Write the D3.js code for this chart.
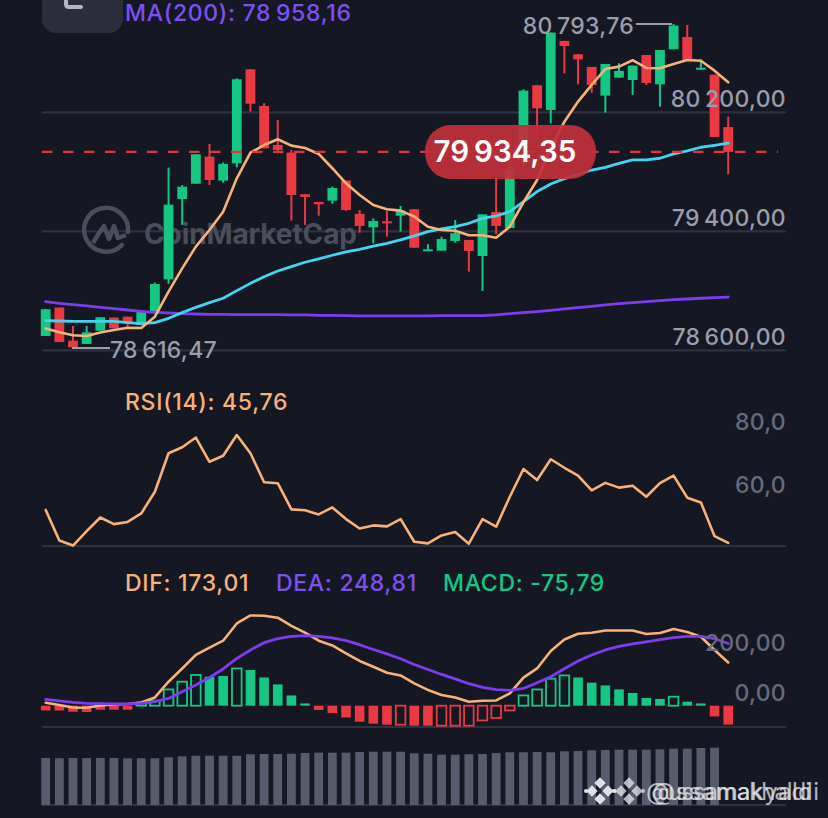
<!DOCTYPE html>
<html><head><meta charset="utf-8">
<script src="https://cdn.jsdelivr.net/npm/d3@7/dist/d3.min.js"></script>
<style>html,body{margin:0;padding:0;background:#151823;overflow:hidden}svg{display:block}text{font-family:Inter,"Noto Sans",sans-serif}</style>
</head><body><svg id="c" width="828" height="818"></svg>
<script>
const opens=[78696,78887,78665,78643,78732,78820,78826,78770,78849,79077,79617,79720,79902,79741,79857,80489,80243,79980,79929,79649,79597,79606,79741,79517,79427,79467,79505,79548,79268,79270,79335,79342,79234,79530,79422,79992,80382,80216,80680,80590,80505,80312,80433,80417,80585,80388,80624,80706,80487,80453,80101];
const closes=[78876,78656,78620,78721,78822,78748,78786,78860,79046,79579,79700,79918,79745,79853,80422,80258,79958,79947,79644,79631,79582,79691,79543,79436,79469,79454,79539,79290,79279,79348,79387,79268,79514,79436,79817,80346,80227,80736,80646,80556,80384,80525,80478,80514,80397,80619,80783,80552,80500,80034,79934];
const highs=[78876,78887,78764,78764,78822,78820,78826,78860,79055,79828,79711,79918,79987,79862,80429,80489,80261,80148,79947,79649,79597,79700,79741,79543,79487,79539,79570,79548,79313,79364,79476,79342,79514,79756,79857,80355,80382,80736,80680,80590,80505,80525,80529,80514,80585,80619,80794,80787,80556,80453,80171];
const lows=[78696,78656,78616,78643,78732,78748,78748,78770,78849,79046,79443,79720,79711,79727,79830,80205,79958,79924,79472,79443,79505,79584,79537,79391,79319,79364,79398,79290,79268,79270,79324,79129,78999,79380,79422,79824,80048,80126,80462,80388,80332,80198,80433,80317,80384,80238,80624,80552,80487,80034,79783];
const maShort=[78746,78721,78701,78696,78719,78737,78752,78750,78826,78994,79151,79297,79409,79532,79756,79929,79980,80019,79976,79960,79920,79824,79723,79644,79577,79548,79539,79499,79431,79409,79404,79373,79373,79357,79431,79595,79745,79958,80137,80272,80384,80491,80507,80550,80498,80496,80525,80552,80547,80480,80402];
const maMid=[78799,78797,78795,78795,78795,78795,78786,78779,78786,78815,78853,78889,78920,78950,79001,79050,79095,79133,79162,79192,79214,79239,79261,79279,79301,79319,79342,79369,79398,79416,79431,79454,79487,79503,79532,79599,79667,79718,79754,79783,79812,79830,79857,79880,79880,79891,79920,79940,79965,79978,79992];
const ma200=[78927,78916,78907,78898,78889,78880,78871,78862,78855,78851,78846,78844,78842,78842,78840,78840,78840,78840,78838,78838,78835,78835,78833,78831,78831,78831,78831,78831,78831,78833,78833,78833,78833,78838,78846,78853,78860,78869,78878,78887,78896,78905,78914,78920,78927,78934,78941,78945,78950,78954,78958.16];
const rsi=[56.2,46.5,44.9,49.5,53.8,51.7,52.4,55.1,62.0,74.2,76.1,79.2,71.5,73.4,80.0,74.2,65.0,64.7,56.4,56.1,54.8,57.0,53.3,50.3,51.3,51.0,53.3,46.1,45.6,48.1,49.2,45.5,53.3,50.9,60.4,69.2,65.7,72.3,69.6,67.1,62.4,64.8,63.3,63.9,60.4,64.7,67.1,60.1,58.6,47.9,45.76];
const dif=[12,3,-7,-8,1,5,7,13,33,96,149,203,232,260,329,361,360,352,319,292,260,241,209,179,156,132,121,89,63,43,33,16,20,21,49,112,149,219,265,288,292,301,301,301,287,291,307,295,276,223,173.01];
const dea=[25,19,13,9,8,7,7,9,16,29,56,83,113,147,189,223,252,268,277,280,277,271,260,244,225,207,188,165,145,125,107,88,73,64,61,69,92,116,148,179,203,223,237,247,255,264,272,277,277,268,248.81];
const macd=[-19,-19,-24,-25,-16,-16,-16,12,20,65,96,123,116,119,149,143,113,85,41,9,-17,-29,-47,-64,-72,-76,-76,-80,-80,-80,-80,-80,-59,-49,-19,41,65,108,121,113,92,81,65,51,31,27,36,16,9,-43,-75.79];
const macdHollow=[7,8,9,10,11,14,26,29,30,31,32,33,34,35,36,37,38,46];
const volume=[47,46.7,47,47,47,47,46.7,46.7,46.7,47.7,48.7,49.3,49.3,49.3,49.3,50.7,51,51,51.3,52,52.3,52.3,52.3,53,53.3,53.3,53.3,51.7,51.3,50.3,50.3,50.7,51,52,52.7,52.7,53,52.7,53.7,54,54.7,55,55.3,55.3,55.3,55.7,56.3,56.3,57,57.3];
const priceTicks=[80200,79400,78600];
const priceTickLabels=["80\u2009200,00","79\u2009400,00","78\u2009600,00"];
const rsiTicks=[80,60];
const rsiTickLabels=["80,0","60,0"];
const macdTicks=[200,0];
const macdTickLabels=["200,00","0,00"];
const lastPrice=79934.35;

const G="#16c784",R="#ea3943",ORANGE="#f6b27a",CYAN="#3fd6ee",PURPLE="#7c3cf0",GRID="#2e313e",TICK="#9a9dab",TICK2="#666b7b";
const svg=d3.select("#c");
svg.append("rect").attr("width",828).attr("height",818).attr("fill","#151823");

const idx=d3.range(opens.length);
const x=d3.scalePoint().domain(idx).range([45.7,728.2]);
const yP=d3.scaleLinear().domain([78600,79400]).range([350.3,231.3]);
const yR=d3.scaleLinear().domain([60,80]).range([498,435]);
const yM=d3.scaleLinear().domain([0,200]).range([705.7,655.7]);
const yV=d3.scaleLinear().domain([0,60]).range([805,745]);

// top-left button
svg.append("rect").attr("x",42).attr("y",-30).attr("width",81).attr("height",63).attr("rx",14).attr("fill","#2b2e3a");
svg.append("path").attr("d","M66 -4V4Q66 7 69 7H81").attr("fill","none").attr("stroke","#b3b6c4").attr("stroke-width",4).attr("stroke-linecap","round");

// grid
const gridLine=(y,x2=786)=>svg.append("line").attr("x1",42).attr("x2",x2).attr("y1",y).attr("y2",y).attr("stroke",GRID).attr("stroke-width",2.2);
priceTicks.forEach(t=>gridLine(yP(t)));
gridLine(546);gridLine(727);gridLine(805,786);

// CoinMarketCap watermark
const wm=svg.append("g");
wm.append("path").attr("d","M122 245A22 22 0 1 1 128 232").attr("fill","none").attr("stroke","#4a4d5a").attr("stroke-width",4.5).attr("stroke-linecap","round");
wm.append("path").attr("d","M93 243L99 233L104 226L109 239L114 226L118 238L126 235").attr("fill","none").attr("stroke","#4a4d5a").attr("stroke-width",4.5).attr("stroke-linejoin","round");
wm.append("text").attr("x",144).attr("y",244).attr("font-size",28).attr("font-weight",700).attr("fill","#4a4d5a").attr("textLength",213).text("CoinMarketCap");

// candles
const candles=svg.append("g");
idx.forEach(i=>{
  const up=closes[i]>=opens[i],c=up?G:R;
  candles.append("line").attr("x1",x(i)).attr("x2",x(i)).attr("y1",yP(highs[i])).attr("y2",yP(lows[i])).attr("stroke",c).attr("stroke-width",2);
  const t=yP(Math.max(opens[i],closes[i])),b=yP(Math.min(opens[i],closes[i]));
  candles.append("rect").attr("x",x(i)-4.9).attr("width",9.8).attr("y",t).attr("height",Math.max(b-t,2)).attr("fill",c);
});
const drawLine=(vals,sc,col,w)=>svg.append("path").datum(vals)
  .attr("d",d3.line().x((d,i)=>x(i)).y(d=>sc(d))).attr("fill","none").attr("stroke",col).attr("stroke-width",w).attr("stroke-linejoin","round").attr("stroke-linecap","round");
drawLine(ma200,yP,PURPLE,2.8);
drawLine(maMid,yP,CYAN,2.8);
drawLine(maShort,yP,ORANGE,2.6);

// last price
svg.append("line").attr("x1",42).attr("x2",778).attr("y1",yP(lastPrice)).attr("y2",yP(lastPrice)).attr("stroke","#e0353f").attr("stroke-width",2.2).attr("stroke-dasharray","10.5 10.5");
svg.append("rect").attr("x",425).attr("y",125).attr("width",171).attr("height",54).attr("rx",26).attr("fill","#c0303a").attr("fill-opacity",.93);
svg.append("text").attr("x",505).attr("y",162).attr("text-anchor","middle").attr("font-size",29.5).attr("font-weight",600).attr("fill","#fff").text("79\u2009934,35");

// price labels
const FS=23;
const tick=(tx,ty,txt,col,anchor)=>svg.append("text").attr("x",tx).attr("y",ty).attr("text-anchor",anchor).attr("font-size",FS).attr("font-weight",500).attr("letter-spacing",.3).attr("fill",col).text(txt);
priceTicks.forEach((t,i)=>tick(786,yP(t)-5,priceTickLabels[i],TICK,"end"));
tick(634,34,"80\u2009793,76",TICK,"end");
svg.append("path").attr("d","M636 24H672").attr("stroke",TICK).attr("stroke-width",1.8).attr("fill","none");
tick(110,357.5,"78\u2009616,47",TICK,"start");
svg.append("path").attr("d","M72 348H110").attr("stroke",TICK).attr("stroke-width",1.8).attr("fill","none");

// legends
const legend=(tx,ty,txt,col)=>svg.append("text").attr("x",tx).attr("y",ty).attr("font-size",FS).attr("font-weight",500).attr("letter-spacing",.7).attr("fill",col).text(txt);
legend(125,20.5,"MA(200): 78\u2009958,16","#7d50f0");
legend(125,409.5,"RSI(14): 45,76",ORANGE);
legend(125,590.5,"DIF: 173,01",ORANGE);
legend(276,590.5,"DEA: 248,81","#7d50f0");
legend(443,590.5,"MACD: -75,79","#16c784");

// RSI
drawLine(rsi,yR,ORANGE,2.6);
rsiTicks.forEach((t,i)=>tick(786,yR(t)-5,rsiTickLabels[i],TICK2,"end"));

// MACD histogram
idx.forEach(i=>{
  const v=macd[i],c=v>=0?G:R,hollow=macdHollow.includes(i);
  const y0=yM(Math.max(v,0)),y1=yM(Math.min(v,0)),h=Math.max(y1-y0,2);
  if(hollow) svg.append("rect").attr("x",x(i)-4.8).attr("width",9.6).attr("y",y0).attr("height",h).attr("fill","none").attr("stroke",c).attr("stroke-width",1.8);
  else svg.append("rect").attr("x",x(i)-4.8).attr("width",9.6).attr("y",y0).attr("height",h).attr("fill",c);
});
drawLine(dif,yM,ORANGE,2.6);
drawLine(dea,yM,PURPLE,2.8);
macdTicks.forEach((t,i)=>tick(786,yM(t)-5,macdTickLabels[i],TICK2,"end"));

// volume
volume.forEach((v,i)=>svg.append("rect").attr("x",x(i)-4.4).attr("width",8.8).attr("y",yV(v)).attr("height",yV(0)-yV(v)).attr("fill","#575c6d"));

// Binance watermark
const diamond=(cx,cy,op)=>{const g=svg.append("g").attr("transform",`translate(${cx},${cy})`).attr("opacity",op).attr("fill","#e8e9ee");
  [[0,-8],[8,0],[0,8],[-8,0]].forEach(([dx,dy])=>g.append("rect").attr("x",dx-4).attr("y",dy-4).attr("width",8).attr("height",8).attr("transform",`rotate(45 ${dx} ${dy})`));
  g.append("rect").attr("x",-1.8).attr("y",-1.8).attr("width",3.6).attr("height",3.6).attr("transform","rotate(45)").attr("fill","#2a2d38");
  g.append("circle").attr("cx",-14).attr("r",2);g.append("circle").attr("cx",14).attr("r",2);};
diamond(600,791,.95);diamond(629,791,.75);
svg.append("text").attr("x",646).attr("y",800).attr("font-size",24).attr("fill","#e8e9ee").attr("fill-opacity",.75).attr("textLength",165).text("@ussamakhaldi");
svg.append("text").attr("x",652).attr("y",800).attr("font-size",24).attr("fill","#e8e9ee").attr("fill-opacity",.75).attr("textLength",167).text("@ssamakyaldi");
</script></body></html>
